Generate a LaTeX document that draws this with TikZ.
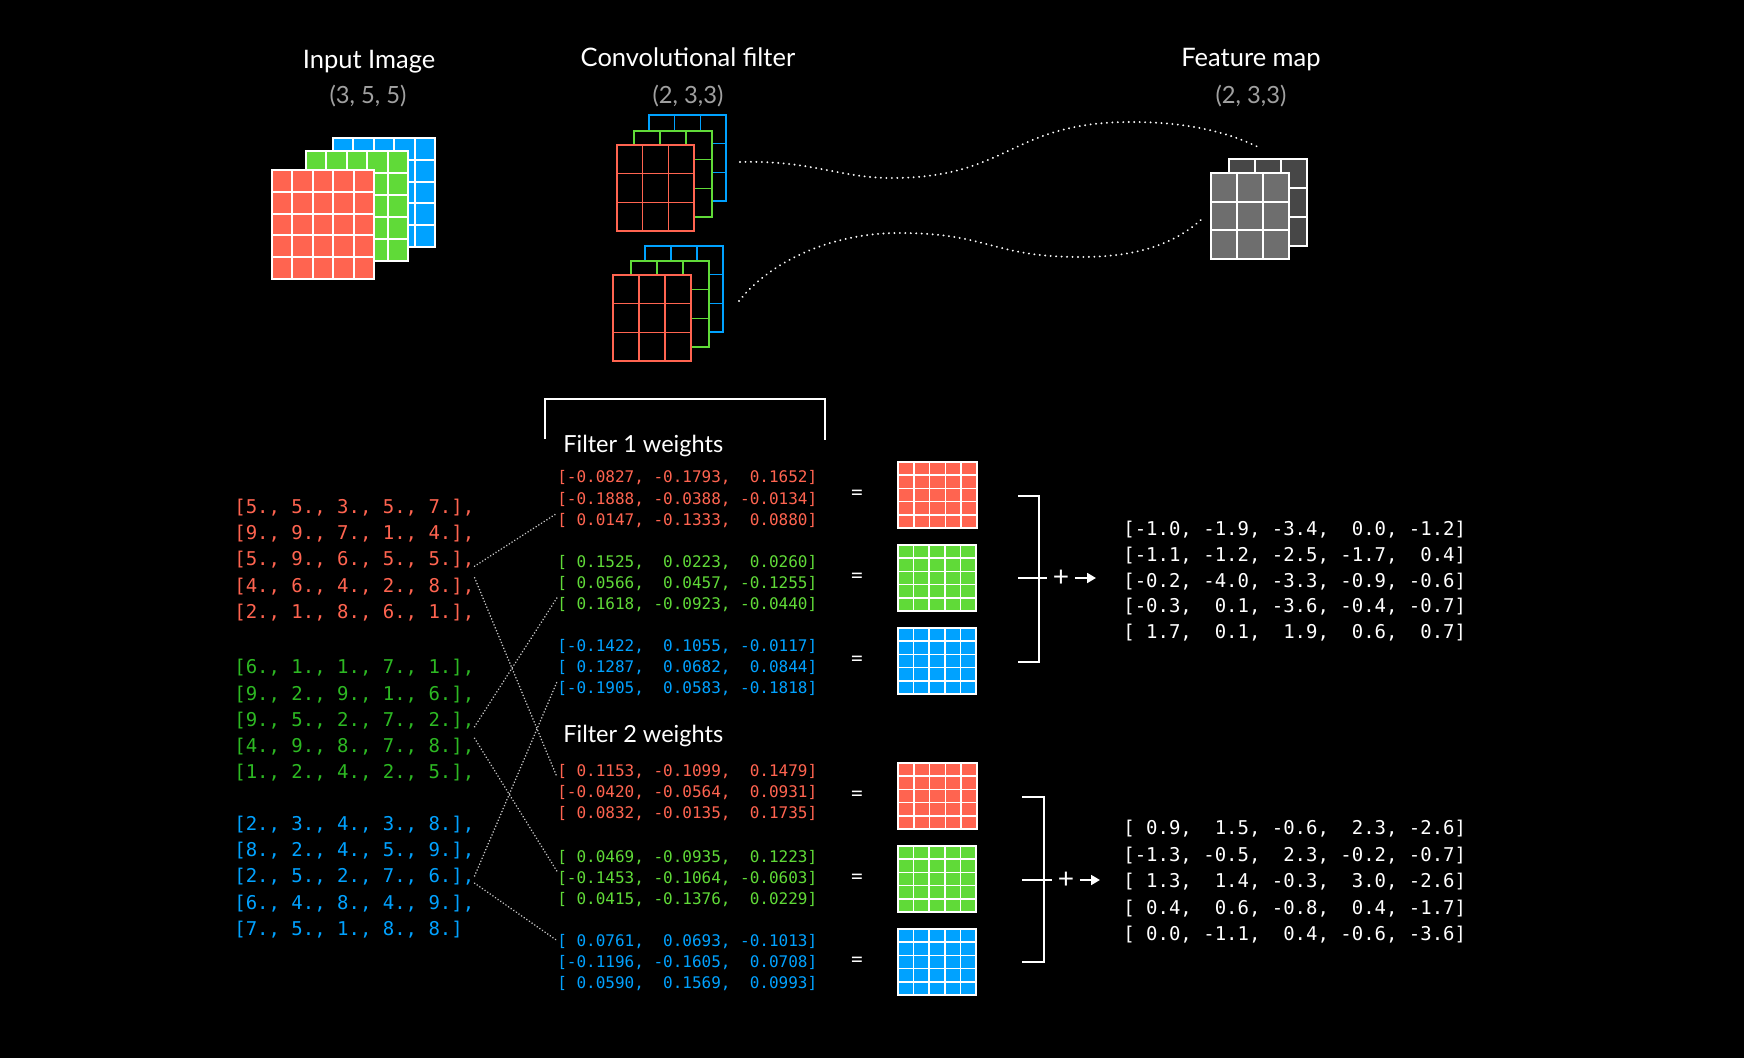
\documentclass[tikz,border=0pt]{standalone}
\usepackage{fontspec}
\newfontfamily\headfont{Lato}
\newfontfamily\codefont{DejaVu Sans Mono}
\usetikzlibrary{arrows.meta}

\definecolor{chred}{RGB}{255,100,80}
\definecolor{chgreen}{RGB}{96,218,56}
\definecolor{chblue}{RGB}{0,162,255}
\definecolor{ingreen}{RGB}{45,185,35}
\definecolor{sizegray}{RGB}{160,160,160}
\definecolor{lightdots}{RGB}{200,200,200}
\definecolor{mapfront}{RGB}{110,110,110}
\definecolor{mapback}{RGB}{71,71,71}

% one channel of cells: corner x, corner y, width, height, cells, fill, lines
\newcommand{\channel}[7]{%
  \path[fill=#6, #7] (#1,#2) rectangle ++(#3,#4);
  \foreach \k in {1,...,#5}{%
    \path[#7] ({#1+\k*#3/#5},#2) -- ++(0,#4);
    \path[#7] (#1,{#2+\k*#4/#5}) -- ++(#3,0);
  }%
}

\def\inred{{[5., 5., 3., 5., 7.],},{[9., 9., 7., 1., 4.],},{[5., 9., 6., 5., 5.],},{[4., 6., 4., 2., 8.],},{[2., 1., 8., 6., 1.],}}
\def\ingreen{{[6., 1., 1., 7., 1.],},{[9., 2., 9., 1., 6.],},{[9., 5., 2., 7., 2.],},{[4., 9., 8., 7., 8.],},{[1., 2., 4., 2., 5.],}}
\def\inblue{{[2., 3., 4., 3., 8.],},{[8., 2., 4., 5., 9.],},{[2., 5., 2., 7., 6.],},{[6., 4., 8., 4., 9.],},{[7., 5., 1., 8., 8.]}}

\def\wonered{{[-0.0827, -0.1793,~~0.1652]},{[-0.1888, -0.0388, -0.0134]},{[~0.0147, -0.1333,~~0.0880]}}
\def\wonegreen{{[~0.1525,~~0.0223,~~0.0260]},{[~0.0566,~~0.0457, -0.1255]},{[~0.1618, -0.0923, -0.0440]}}
\def\woneblue{{[-0.1422,~~0.1055, -0.0117]},{[~0.1287,~~0.0682,~~0.0844]},{[-0.1905,~~0.0583, -0.1818]}}
\def\wtwored{{[~0.1153, -0.1099,~~0.1479]},{[-0.0420, -0.0564,~~0.0931]},{[~0.0832, -0.0135,~~0.1735]}}
\def\wtwogreen{{[~0.0469, -0.0935,~~0.1223]},{[-0.1453, -0.1064, -0.0603]},{[~0.0415, -0.1376,~~0.0229]}}
\def\wtwoblue{{[~0.0761,~~0.0693, -0.1013]},{[-0.1196, -0.1605,~~0.0708]},{[~0.0590,~~0.1569,~~0.0993]}}

\def\resone{{[-1.0, -1.9, -3.4,~~0.0, -1.2]},{[-1.1, -1.2, -2.5, -1.7,~~0.4]},{[-0.2, -4.0, -3.3, -0.9, -0.6]},{[-0.3,~~0.1, -3.6, -0.4, -0.7]},{[~1.7,~~0.1,~~1.9,~~0.6,~~0.7]}}
\def\restwo{{[~0.9,~~1.5, -0.6,~~2.3, -2.6]},{[-1.3, -0.5,~~2.3, -0.2, -0.7]},{[~1.3,~~1.4, -0.3,~~3.0, -2.6]},{[~0.4,~~0.6, -0.8,~~0.4, -1.7]},{[~0.0, -1.1,~~0.4, -0.6, -3.6]}}

\begin{document}
\begin{tikzpicture}[x=0.02cm, y=-0.02cm,
  heading/.style={font=\headfont\fontsize{14.5}{17}\selectfont, text=white, anchor=base, inner sep=0pt},
  sizelabel/.style={font=\headfont\fontsize{13.5}{16}\selectfont, text=sizegray, anchor=base, inner sep=0pt},
  weightlabel/.style={font=\headfont\fontsize{13.4}{16}\selectfont, text=white, anchor=base west, inner sep=0pt},
  inrow/.style={font=\codefont\fontsize{10.8}{12}\selectfont, anchor=west, inner sep=0pt, text height=7.9pt, text depth=0pt},
  wrow/.style={font=\codefont\fontsize{9.1}{11}\selectfont, anchor=west, inner sep=0pt, text height=6.6pt, text depth=0pt},
  sign/.style={font=\headfont\fontsize{13}{15}\selectfont, text=white, inner sep=1pt},
  plussign/.style={sign, font=\headfont\fontsize{16}{18}\selectfont},
  link/.style={draw=lightdots, line width=1pt, dash pattern=on 0.01pt off 1.8pt, line cap=round},
  curvy/.style={draw=white, line width=1.2pt, dash pattern=on 0.01pt off 3.1pt, line cap=round},
  bracket/.style={draw=white, line width=1.3pt},
  tip/.style={-{Triangle[length=5pt,width=5.5pt]}},
]
\fill[black] (0,0) rectangle (1744,1058);

% headings
\node[heading] (inTitle) at (369,68) {Input Image};
\node[sizelabel] (inSize) at (368,103) {(3, 5, 5)};
\node[heading] (convTitle) at (688,66) {Convolutional filter};
\node[sizelabel] (convSize) at (688,103) {(2, 3,3)};
\node[heading] (mapTitle) at (1251,66) {Feature map};
\node[sizelabel] (mapSize) at (1251,103) {(2, 3,3)};

% input image
\channel{333}{138}{102}{109}{5}{chblue}{draw=white, line width=1.1pt}
\channel{306}{151}{102}{110}{5}{chgreen}{draw=white, line width=1.1pt}
\channel{272}{170}{102}{109}{5}{chred}{draw=white, line width=1.1pt}

% filters
\channel{649}{115}{77}{86}{3}{black}{draw=chblue, line width=0.9pt}
\channel{634}{131}{78}{86}{3}{black}{draw=chgreen, line width=0.9pt}
\channel{617}{145}{77}{86}{3}{black}{draw=chred, line width=0.9pt}
\channel{645}{246}{78}{86}{3}{black}{draw=chblue, line width=0.9pt}
\channel{631}{261}{78}{86}{3}{black}{draw=chgreen, line width=0.9pt}
\channel{613}{275}{78}{86}{3}{black}{draw=chred, line width=0.9pt}

% feature map
\channel{1229}{159}{78}{87}{3}{mapback}{draw=white, line width=1.1pt}
\channel{1211}{173}{78}{86}{3}{mapfront}{draw=white, line width=1.1pt}

\coordinate (f1out) at (740,162);
\coordinate (map1in) at (1260,148);
\coordinate (f2out) at (739,301);
\coordinate (map2in) at (1204,217);
\draw[curvy] (f1out) .. controls (810,160) and (840,178) .. (891,178)
  .. controls (1010,178) and (1010,122) .. (1131,122)
  .. controls (1190,122) and (1230,133) .. (map1in);
\draw[curvy] (f2out) .. controls (770,262) and (830,233) .. (899,233)
  .. controls (990,233) and (990,257) .. (1081,257)
  .. controls (1135,257) and (1175,245) .. (map2in);

% input values
\foreach \row [count=\r] in \inred
  \node[inrow, text=chred] (inr\r) at (234,{506.5+26.2*(\r-1)}) {\row};
\foreach \row [count=\r] in \ingreen
  \node[inrow, text=ingreen] (ing\r) at (234,{667+26.2*(\r-1)}) {\row};
\foreach \row [count=\r] in \inblue
  \node[inrow, text=chblue] (inb\r) at (234,{823.5+26.2*(\r-1)}) {\row};

% filter weights
\draw[bracket] (545,439) -- (545,399) -- (825,399) -- (825,440);
\node[weightlabel] (w1Title) at (563,452) {Filter 1 weights};
\node[weightlabel] (w2Title) at (563,742) {Filter 2 weights};
\foreach \row [count=\r] in \wonered
  \node[wrow, text=chred] (f1r\r) at (557,{477+21.2*(\r-1)}) {\row};
\foreach \row [count=\r] in \wonegreen
  \node[wrow, text=chgreen] (f1g\r) at (557,{561.5+21.2*(\r-1)}) {\row};
\foreach \row [count=\r] in \woneblue
  \node[wrow, text=chblue] (f1b\r) at (557,{646+21*(\r-1)}) {\row};
\foreach \row [count=\r] in \wtwored
  \node[wrow, text=chred] (f2r\r) at (557,{771+21*(\r-1)}) {\row};
\foreach \row [count=\r] in \wtwogreen
  \node[wrow, text=chgreen] (f2g\r) at (557,{856.5+21*(\r-1)}) {\row};
\foreach \row [count=\r] in \wtwoblue
  \node[wrow, text=chblue] (f2b\r) at (557,{940.5+21*(\r-1)}) {\row};

\draw[link] (inr3.south east) -- (f1r3.north west);
\draw[link] (inr4.north east) -- (f2r1.south west);
\draw[link] (ing3.south east) -- (f1g3.north west);
\draw[link] (ing4.north east) -- (f2g2.north west);
\draw[link] (inb3.east) -- (f1b3.north west);
\draw[link] (inb3.south east) -- (f2b1.west);

% products
\foreach \y [count=\i] in {495,578,661,796,879,962}
  \node[sign] (eq\i) at (857,\y) {=};
\channel{898}{462}{79}{66}{5}{chred}{draw=white, line width=1pt}
\channel{898}{545}{78}{66}{5}{chgreen}{draw=white, line width=1pt}
\channel{898}{628}{78}{66}{5}{chblue}{draw=white, line width=1pt}
\channel{898}{763}{79}{66}{5}{chred}{draw=white, line width=1pt}
\channel{898}{846}{78}{66}{5}{chgreen}{draw=white, line width=1pt}
\channel{898}{929}{78}{66}{5}{chblue}{draw=white, line width=1pt}

% sums
\node[plussign] (plus1) at (1061,578) {+};
\node[plussign] (plus2) at (1066,880) {+};
\coordinate (sum1) at (1096,578);
\coordinate (sum2) at (1100,880);
\draw[bracket] (1018,496) -- (1039,496) -- (1039,662) -- (1018,662);
\draw[bracket] (1022,797) -- (1044,797) -- (1044,962) -- (1022,962);
\draw[bracket, shorten >=2pt] (1018,578) -- (plus1.west);
\draw[bracket, shorten >=2pt] (1022,880) -- (plus2.west);
\draw[bracket, tip, shorten <=2pt] (plus1.east) -- (sum1);
\draw[bracket, tip, shorten <=2pt] (plus2.east) -- (sum2);

\foreach \row [count=\r] in \resone
  \node[inrow, text=white] (s1r\r) at (1123,{529+25.6*(\r-1)}) {\row};
\foreach \row [count=\r] in \restwo
  \node[inrow, text=white] (s2r\r) at (1123,{828+26.4*(\r-1)}) {\row};
\end{tikzpicture}
\end{document}
